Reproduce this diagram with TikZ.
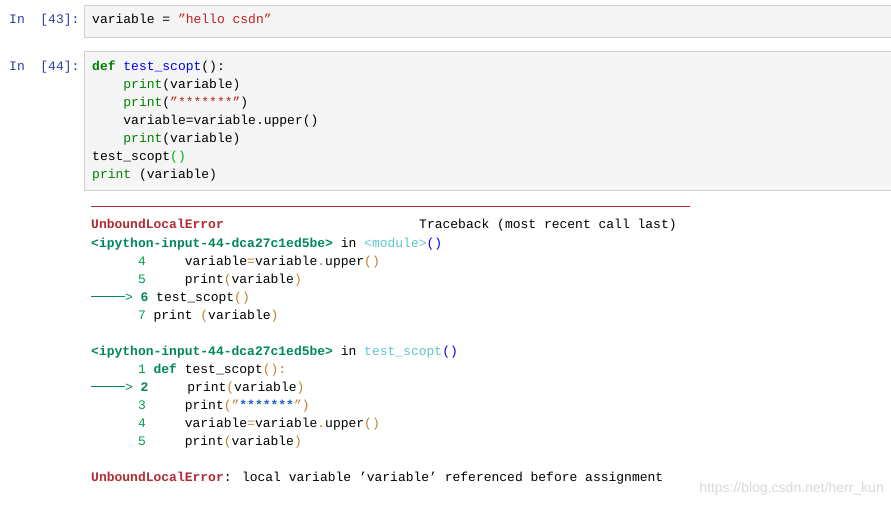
\documentclass[tikz,border=0pt]{standalone}
\usepackage{fontspec}
\setmainfont{Liberation Mono}
\newfontfamily\wmfont{Liberation Sans}
\definecolor{prompt}{RGB}{48,63,159}
\definecolor{kw}{RGB}{0,128,0}
\definecolor{fn}{RGB}{0,0,255}
\definecolor{str}{RGB}{186,33,33}
\definecolor{err}{RGB}{178,43,49}
\definecolor{tbg}{RGB}{0,135,95}
\definecolor{num}{RGB}{0,162,80}
\definecolor{mod}{RGB}{96,198,200}
\definecolor{par}{RGB}{192,128,48}
\definecolor{sblue}{RGB}{32,96,208}
\definecolor{cellbg}{RGB}{245,245,245}
\definecolor{cellbd}{RGB}{207,207,207}
\newcommand{\Ln}[4]{\node[txt] (#1) at (#2,-#3) {#4};}
\newcommand{\kw}[1]{\textcolor{kw}{#1}}
\newcommand{\pa}[1]{\textcolor{par}{#1}}
\begin{document}
\begin{tikzpicture}[x=1pt,y=1pt,
  txt/.style={anchor=base west,inner sep=0pt,font=\fontsize{13}{15}\selectfont},
  cell/.style={draw=cellbd,fill=cellbg,line width=0.8pt}]
\useasboundingbox (0,0) rectangle (891,-505);
\fill[white] (0,0) rectangle (891,-505);
\draw[cell] (84,-5) rectangle (892,-37);
\draw[cell] (84,-51) rectangle (892,-190);
\Ln{p1}{9}{24}{\textcolor{prompt}{In\ \ [43]:}}
\Ln{p2}{9}{71}{\textcolor{prompt}{In\ \ [44]:}}
\Ln{a1}{92}{24}{variable = \textcolor{str}{"hello csdn"}}
\Ln{b1}{92}{71}{\kw{\bfseries def} \textcolor{fn}{test\_scopt}():}
\Ln{b2}{92}{89}{\ \ \ \ \kw{print}(variable)}
\Ln{b3}{92}{107}{\ \ \ \ \kw{print}(\textcolor{str}{"*******"})}
\Ln{b4}{92}{125}{\ \ \ \ variable=variable.upper()}
\Ln{b5}{92}{143}{\ \ \ \ \kw{print}(variable)}
\Ln{b6}{92}{161}{test\_scopt\textcolor{green!70!black}{()}}
\Ln{b7}{92}{179}{\kw{print} (variable)}
\draw[err,line width=0.8pt] (91,-206) -- (690,-206);
\Ln{t1}{91}{229}{\textcolor{err}{\bfseries UnboundLocalError}}
\Ln{t1b}{419}{229}{Traceback (most recent call last)}
\Ln{t2}{91}{247}{\textcolor{tbg}{\bfseries <ipython-input-44-dca27c1ed5be>} in \textcolor{mod}{<module>}\textcolor{fn}{()}}
\Ln{t3}{91}{265}{\ \ \ \ \ \ \textcolor{num}{4}\ \ \ \ \ variable\pa{=}variable\pa{.}upper\pa{()}}
\Ln{t4}{91}{283}{\ \ \ \ \ \ \textcolor{num}{5}\ \ \ \ \ print\pa{(}variable\pa{)}}
\Ln{t5}{91}{301}{\textcolor{tbg}{\rule[0.3em]{2.6em}{0.7pt}>\ \bfseries 6} test\_scopt\pa{()}}
\Ln{t6}{91}{319}{\ \ \ \ \ \ \textcolor{num}{7} print \pa{(}variable\pa{)}}
\Ln{u1}{91}{355}{\textcolor{tbg}{\bfseries <ipython-input-44-dca27c1ed5be>} in \textcolor{mod}{test\_scopt}\textcolor{fn}{()}}
\Ln{u2}{91}{373}{\ \ \ \ \ \ \textcolor{num}{1} \textcolor{tbg}{\bfseries def} test\_scopt\pa{():}}
\Ln{u3}{91}{391}{\textcolor{tbg}{\rule[0.3em]{2.6em}{0.7pt}>\ \bfseries 2}\ \ \ \ \ print\pa{(}variable\pa{)}}
\Ln{u4}{91}{409}{\ \ \ \ \ \ \textcolor{num}{3}\ \ \ \ \ print\pa{("}\textcolor{sblue}{\bfseries *******}\pa{")}}
\Ln{u5}{91}{427}{\ \ \ \ \ \ \textcolor{num}{4}\ \ \ \ \ variable\pa{=}variable\pa{.}upper\pa{()}}
\Ln{u6}{91}{445}{\ \ \ \ \ \ \textcolor{num}{5}\ \ \ \ \ print\pa{(}variable\pa{)}}
\Ln{v1}{91}{481}{\textcolor{err}{\bfseries UnboundLocalError}: local variable 'variable' referenced before assignment}
\node[anchor=base east,inner sep=0pt,font=\wmfont\fontsize{14}{16}\selectfont,text=black!15] (wm) at (884,-492) {https://blog.csdn.net/herr\_kun};
\end{tikzpicture}
\end{document}
